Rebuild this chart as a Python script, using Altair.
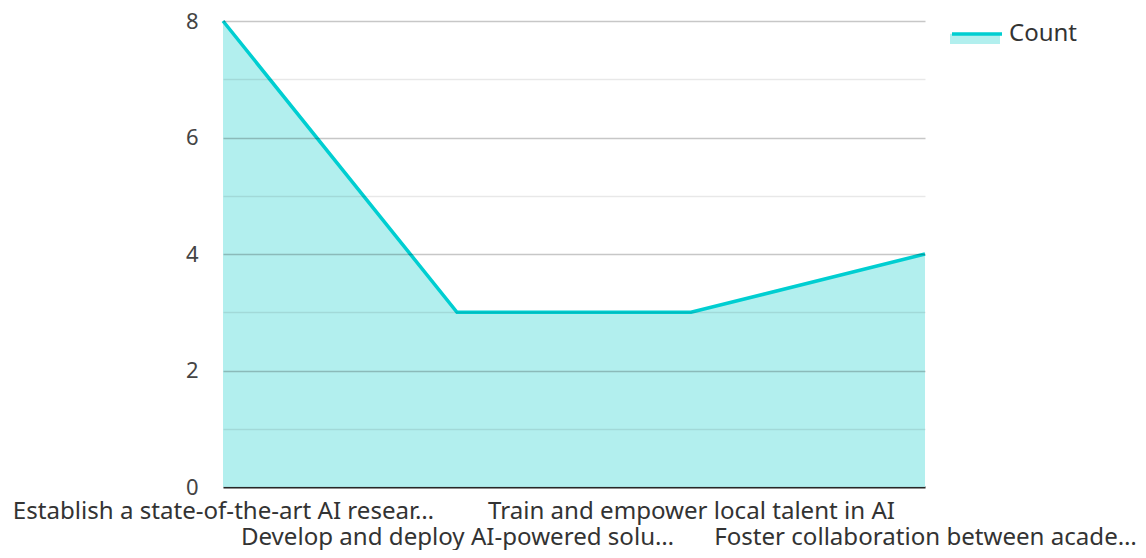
import json
import altair as alt
import pandas as pd

categories = [
    "Establish a state-of-the-art AI resear…",
    "Develop and deploy AI-powered solu…",
    "Train and empower local talent in AI",
    "Foster collaboration between acade…",
]
counts = [8, 3, 3, 4]
series_name = "Count"
y_ticks = [0, 1, 2, 3, 4, 5, 6, 7, 8]

df = pd.DataFrame({"category": categories, "value": counts, "series": [series_name] * len(categories)})

FONT = "Noto Sans"
LINE = "#00CED1"
FILL = "#B2EFEE"
XFS = 24.1
YFS = 22
LFS = 24

cat_js = json.dumps(categories, ensure_ascii=False)
x_label_expr = f"indexof({cat_js}, datum.value) % 2 == 1 ? ['', datum.label] : datum.label"

x_enc = alt.X(
    "category:N",
    sort=categories,
    scale=alt.Scale(type="point", padding=0),
    axis=alt.Axis(
        title=None, labelAngle=0, labelExpr=x_label_expr, labelOverlap=False,
        labelLimit=1000, labelFontSize=XFS, labelFont=FONT, labelColor="#333333",
        labelLineHeight=26, labelPadding=12, ticks=False, tickSize=0,
        domainColor="#333333", domainWidth=2, grid=False, labelBound=False,
    ),
)
y_enc = alt.Y(
    "value:Q",
    scale=alt.Scale(domain=[0, 8], nice=False),
    axis=alt.Axis(
        title=None, values=y_ticks, labelExpr="datum.value % 2 == 0 ? datum.label : ''",
        labelFontSize=YFS, labelFont=FONT, labelColor="#444444", ticks=False, tickSize=0,
        labelPadding=25, domain=False, zindex=1,
        gridColor={"condition": {"test": "datum.value % 2 == 0", "value": "rgba(0,0,0,0.22)"},
                   "value": "rgba(0,0,0,0.09)"},
        gridWidth=1.3,
    ),
)

area = alt.Chart(df).mark_area(fillOpacity=1).encode(
    x=x_enc, y=y_enc,
    fill=alt.Fill("series:N", scale=alt.Scale(range=[FILL]), legend=alt.Legend(
        title=None, orient="none", legendX=727, legendY=-14,
        symbolType="M-1,0.07H1V0.48H-1Z", symbolSize=2500, symbolStrokeWidth=0,
        labelFontSize=LFS, labelFont=FONT, labelExpr="''", labelOffset=5,
    )),
)
line = alt.Chart(df).mark_line(strokeWidth=3.5).encode(
    x=x_enc, y=y_enc,
    stroke=alt.Stroke("series:N", scale=alt.Scale(range=[LINE]), legend=alt.Legend(
        title=None, orient="none", legendX=727, legendY=-14,
        symbolType="stroke", symbolSize=2500, symbolStrokeWidth=3.5,
        labelFontSize=LFS, labelFont=FONT, labelColor="#333333", labelOffset=5,
    )),
)

chart = alt.layer(area, line).properties(
    width=702, height=466,
    autosize=alt.AutoSizeParams(type="none"),
    padding={"left": 215, "top": 13, "right": 213, "bottom": 63},
).configure_view(stroke=None)

chart.save("out.html", embed_options={"renderer": "svg", "actions": False})
